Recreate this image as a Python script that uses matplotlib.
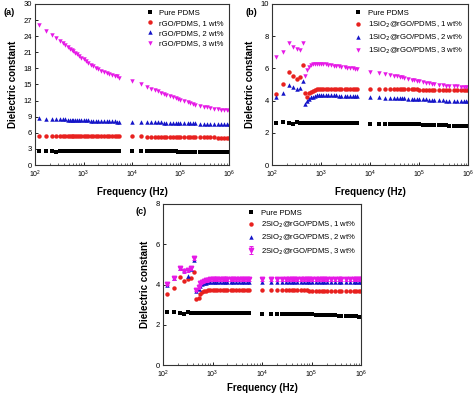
import matplotlib
matplotlib.use("Agg")
import matplotlib.pyplot as plt

plt.rcParams['font.family'] = ['Liberation Sans', 'DejaVu Sans']

# frequency grid (Hz), two measurement segments
freq = [120, 170, 220, 270, 320, 370, 420, 470, 520, 570, 620, 680, 750, 820, 900,
        1000, 1100, 1250, 1400, 1600, 1800, 2000, 2300, 2600, 3000, 3400, 3900, 4400, 4900, 5500,
        10000, 15000, 20000, 25000, 30000, 35000, 40000, 45000, 50000, 60000, 70000, 80000,
        90000, 100000, 120000, 140000, 160000, 180000, 200000, 250000, 300000, 350000,
        400000, 500000, 600000, 700000, 800000, 900000, 1000000]

pdms = [2.62, 2.66, 2.6, 2.52, 2.66, 2.6, 2.6, 2.6, 2.6, 2.6, 2.6, 2.6, 2.6, 2.6, 2.6,
        2.6, 2.59, 2.59, 2.59, 2.59, 2.59, 2.58, 2.58, 2.58, 2.58, 2.58, 2.58, 2.58, 2.58, 2.58,
        2.55, 2.55, 2.55, 2.55, 2.55, 2.55, 2.54, 2.54, 2.54, 2.53, 2.53, 2.53,
        2.52, 2.52, 2.51, 2.5, 2.5, 2.49, 2.49, 2.48, 2.47, 2.46,
        2.45, 2.44, 2.43, 2.42, 2.42, 2.41, 2.41]

# panel (a): rGO/PDMS
a_1wt = [5.5, 5.48, 5.45, 5.43, 5.42, 5.42, 5.41, 5.41, 5.4, 5.4, 5.4, 5.4, 5.4, 5.4, 5.4,
         5.4, 5.4, 5.39, 5.39, 5.39, 5.38, 5.38, 5.38, 5.38, 5.37, 5.37, 5.37, 5.37, 5.36, 5.36,
         5.33, 5.32, 5.31, 5.3, 5.3, 5.29, 5.29, 5.28, 5.28, 5.27, 5.26, 5.25,
         5.25, 5.24, 5.23, 5.22, 5.21, 5.2, 5.2, 5.18, 5.17, 5.16,
         5.15, 5.14, 5.13, 5.12, 5.11, 5.1, 5.1]
a_2wt = [8.7, 8.65, 8.6, 8.57, 8.55, 8.53, 8.5, 8.48, 8.47, 8.45, 8.44, 8.42, 8.4, 8.39, 8.37,
         8.35, 8.33, 8.31, 8.29, 8.27, 8.25, 8.23, 8.21, 8.19, 8.17, 8.15, 8.14, 8.12, 8.11, 8.1,
         8.02, 8.0, 7.98, 7.96, 7.95, 7.94, 7.93, 7.92, 7.91, 7.89, 7.87, 7.86,
         7.85, 7.84, 7.82, 7.8, 7.78, 7.76, 7.75, 7.72, 7.7, 7.68,
         7.66, 7.64, 7.62, 7.6, 7.59, 7.58, 7.57]
a_3wt = [26.0, 25.0, 24.2, 23.6, 23.1, 22.7, 22.3, 22.0, 21.7, 21.4, 21.2, 20.9, 20.6, 20.3, 20.0,
         19.7, 19.4, 19.0, 18.7, 18.4, 18.1, 17.9, 17.6, 17.3, 17.1, 16.9, 16.7, 16.6, 16.5, 16.3,
         15.7, 15.0, 14.5, 14.2, 13.9, 13.7, 13.5, 13.3, 13.1, 12.85, 12.6, 12.4,
         12.25, 12.1, 11.85, 11.65, 11.5, 11.35, 11.2, 11.0, 10.85, 10.75,
         10.65, 10.5, 10.4, 10.3, 10.25, 10.2, 10.15]

# panel (b): 1SiO2@rGO/PDMS
b_1wt = [4.4, 5.0, 5.75, 5.5, 5.35, 5.45, 6.2, 4.45, 4.2, 4.45, 4.55, 4.62, 4.68, 4.7, 4.72,
         4.72, 4.72, 4.72, 4.72, 4.72, 4.72, 4.72, 4.72, 4.72, 4.72, 4.72, 4.72, 4.72, 4.72, 4.72,
         4.7, 4.7, 4.7, 4.7, 4.7, 4.7, 4.7, 4.7, 4.7, 4.69, 4.69, 4.69,
         4.69, 4.68, 4.68, 4.68, 4.68, 4.67, 4.67, 4.67, 4.66, 4.66,
         4.66, 4.65, 4.65, 4.65, 4.65, 4.65, 4.65]
b_2wt = [4.25, 4.5, 4.95, 4.85, 4.75, 4.8, 5.2, 3.8, 3.95, 4.1, 4.2, 4.25, 4.3, 4.32, 4.32,
         4.32, 4.32, 4.32, 4.32, 4.32, 4.32, 4.32, 4.31, 4.31, 4.31, 4.31, 4.3, 4.3, 4.3, 4.3,
         4.22, 4.2, 4.19, 4.18, 4.17, 4.16, 4.15, 4.15, 4.14, 4.13, 4.12, 4.11,
         4.1, 4.09, 4.08, 4.07, 4.06, 4.05, 4.04, 4.03, 4.01, 4.0,
         3.99, 3.98, 3.97, 3.96, 3.96, 3.95, 3.95]
b_3wt = [6.7, 7.0, 7.6, 7.3, 7.2, 7.15, 7.6, 5.5, 5.9, 6.1, 6.2, 6.28, 6.3, 6.3, 6.3,
         6.3, 6.28, 6.25, 6.22, 6.2, 6.17, 6.15, 6.12, 6.1, 6.07, 6.05, 6.02, 6.0, 5.98, 5.97,
         5.8, 5.72, 5.65, 5.6, 5.55, 5.5, 5.47, 5.44, 5.4, 5.35, 5.3, 5.27,
         5.23, 5.2, 5.15, 5.1, 5.07, 5.05, 5.02, 4.98, 4.95, 4.93,
         4.91, 4.9, 4.88, 4.87, 4.86, 4.85, 4.85]

# panel (c): 2SiO2@rGO/PDMS
c_1wt = [3.55, 3.85, 4.35, 4.2, 4.25, 4.3, 4.6, 3.3, 3.35, 3.55, 3.62, 3.67, 3.7, 3.72, 3.72,
         3.72, 3.72, 3.72, 3.72, 3.72, 3.72, 3.72, 3.72, 3.72, 3.72, 3.72, 3.72, 3.72, 3.72, 3.72,
         3.72, 3.72, 3.72, 3.71, 3.71, 3.71, 3.71, 3.71, 3.71, 3.71, 3.71, 3.71,
         3.7, 3.7, 3.7, 3.7, 3.7, 3.7, 3.7, 3.7, 3.7, 3.7,
         3.7, 3.7, 3.7, 3.7, 3.7, 3.7, 3.7]
c_2wt = [4.0, 4.3, 4.8, 4.7, 4.4, 4.75, 5.2, 3.7, 3.8, 3.95, 4.02, 4.07, 4.1, 4.12, 4.12,
         4.12, 4.12, 4.12, 4.12, 4.12, 4.12, 4.12, 4.12, 4.12, 4.12, 4.12, 4.12, 4.12, 4.12, 4.12,
         4.12, 4.12, 4.12, 4.12, 4.12, 4.12, 4.12, 4.12, 4.12, 4.12, 4.12, 4.12,
         4.12, 4.12, 4.12, 4.12, 4.12, 4.12, 4.12, 4.12, 4.12, 4.12,
         4.12, 4.12, 4.12, 4.12, 4.12, 4.12, 4.12]
c_3wt = [4.05, 4.3, 4.8, 4.65, 4.7, 4.8, 5.3, 3.75, 3.9, 4.1, 4.15, 4.2, 4.22, 4.24, 4.25,
         4.25, 4.25, 4.25, 4.25, 4.25, 4.25, 4.25, 4.25, 4.25, 4.25, 4.25, 4.25, 4.25, 4.25, 4.25,
         4.25, 4.25, 4.25, 4.25, 4.25, 4.25, 4.25, 4.25, 4.25, 4.25, 4.25, 4.25,
         4.25, 4.25, 4.25, 4.25, 4.25, 4.26, 4.26, 4.26, 4.26, 4.26,
         4.26, 4.27, 4.27, 4.27, 4.27, 4.27, 4.27]

colors = ['black', '#e8211f', '#1414c8', '#e619e6']
markers = ['s', 'o', '^', 'v']


def panel(ax, series, labels, ymax, yticks, tag, tagpos, errbar=False):
    for i, (vals, lab) in enumerate(zip(series, labels)):
        if errbar and i == 3:
            ax.errorbar(freq, vals, yerr=0.08, fmt=markers[i], color=colors[i], ms=3.2,
                        elinewidth=0.7, capsize=1.5, capthick=0.7, label=lab, lw=0)
        else:
            ax.plot(freq, vals, linestyle='none', marker=markers[i], color=colors[i],
                    ms=3.2, markeredgewidth=0, label=lab)
    ax.set_xscale('log')
    ax.set_xlim(100, 1e6)
    ax.set_ylim(0, ymax)
    ax.set_yticks(yticks)
    ax.tick_params(direction='in', labelsize=5.5, length=2.5, width=0.6, pad=2)
    ax.tick_params(axis='x', labelsize=5, pad=2.5)
    ax.tick_params(which='minor', direction='in', length=1.5, width=0.4)
    for s in ax.spines.values():
        s.set_linewidth(0.8)
        s.set_color('#333333')
    ax.set_xlabel('Frequency (Hz)', fontsize=7, fontweight='bold', labelpad=5)
    ax.set_ylabel('Dielectric constant', fontsize=7, fontweight='bold', labelpad=4)
    ax.legend(loc='upper right', fontsize=5.6, frameon=False, handletextpad=0.6,
              labelspacing=0.35, borderaxespad=0.3, handlelength=1.2)
    fig.text(tagpos[0], tagpos[1], tag, fontsize=6.5, fontweight='bold')


fig = plt.figure(figsize=(4.74, 3.93), dpi=100)
ax_a = fig.add_axes([0.074, 0.580, 0.409, 0.410])
ax_b = fig.add_axes([0.574, 0.580, 0.414, 0.410])
ax_c = fig.add_axes([0.344, 0.071, 0.418, 0.410])

panel(ax_a, [pdms, a_1wt, a_2wt, a_3wt],
      ['Pure PDMS', 'rGO/PDMS, 1 wt%', 'rGO/PDMS, 2 wt%', 'rGO/PDMS, 3 wt%'],
      30, range(0, 31, 3), '(a)', (0.008, 0.962))
panel(ax_b, [pdms, b_1wt, b_2wt, b_3wt],
      ['Pure PDMS', '1SiO$_2$@rGO/PDMS, 1 wt%', '1SiO$_2$@rGO/PDMS, 2 wt%',
       '1SiO$_2$@rGO/PDMS, 3 wt%'],
      10, range(0, 11, 2), '(b)', (0.518, 0.962))
panel(ax_c, [pdms, c_1wt, c_2wt, c_3wt],
      ['Pure PDMS', '2SiO$_2$@rGO/PDMS, 1 wt%', '2SiO$_2$@rGO/PDMS, 2 wt%',
       '2SiO$_2$@rGO/PDMS, 3 wt%'],
      8, range(0, 9, 2), '(c)', (0.285, 0.455), errbar=True)
ax_c.xaxis.labelpad = 2

fig.savefig('out.png', dpi=100)
